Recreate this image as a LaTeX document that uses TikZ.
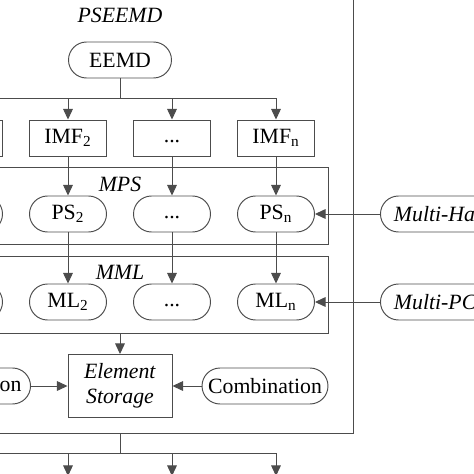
\documentclass[tikz,border=0pt]{standalone}
\usepackage{fontspec}
\setmainfont{Liberation Serif}
\usetikzlibrary{arrows.meta}
\begin{document}
\begin{tikzpicture}[x=0.02cm, y=-0.02cm, >={Triangle[length=6pt,width=5.5pt]},
    every node/.style={font=\fontsize{12.4}{14}\selectfont},
    line/.style={draw=black!70, line width=0.55pt},
    stepbox/.style={line, rectangle, minimum width=1.54cm, minimum height=0.72cm, inner sep=0pt},
    roundbox/.style={line, rectangle, rounded corners=0.36cm, minimum width=1.54cm, minimum height=0.72cm, inner sep=0pt}]

    \useasboundingbox (0,0) rectangle (474,474);
    \clip (0,0) rectangle (474,474);

    % Frames of the blocks
    \draw[line] (-200,-50) rectangle (353,433);
    \draw[line] (-150,167) rectangle (328,244);
    \draw[line] (-150,256) rectangle (328,333);

    % Labels of the blocks
    \node (lpseemd) at (120,15) {\textit{PSEEMD}};
    \node (lmps) at (120,184) {\textit{MPS}};
    \node (lmml) at (120,272) {\textit{MML}};

    % Define decomposition node
    \node[roundbox, minimum width=2.06cm] (eemd) at (120,60) {EEMD};

    % Define nodes in the IMF row
    \node[stepbox] (imf1) at (-36,138) {};
    \node[stepbox] (imf2) at (68,138) {IMF\textsubscript{2}};
    \node[stepbox] (imfd) at (172,138) {\strut...};
    \node[stepbox] (imfn) at (276,138) {IMF\textsubscript{n}};

    % Define nodes in the PS row
    \node[roundbox] (ps1) at (-36,214) {};
    \node[roundbox] (ps2) at (68,214) {PS\textsubscript{2}};
    \node[roundbox] (psd) at (172,214) {\strut...};
    \node[roundbox] (psn) at (276,214) {PS\textsubscript{n}};

    % Define nodes in the ML row
    \node[roundbox] (ml1) at (-36,302) {};
    \node[roundbox] (ml2) at (68,302) {ML\textsubscript{2}};
    \node[roundbox] (mld) at (172,302) {\strut...};
    \node[roundbox] (mln) at (276,302) {ML\textsubscript{n}};

    % Define side inputs
    \node[roundbox, anchor=west, text width=2.6cm, align=left, inner xsep=0.27cm] (mharm) at (380,214) {\textit{Multi-Ha}};
    \node[roundbox, anchor=west, text width=2.6cm, align=left, inner xsep=0.27cm] (mpc) at (380,302) {\textit{Multi-PC}};

    % Define storage and its inputs
    \node[stepbox, minimum width=2.08cm, minimum height=1.26cm, align=center] (store) at (120,386) {\textit{Element}\\\textit{Storage}};
    \node[roundbox, minimum width=2.52cm] (comb) at (265,386) {Combination};
    \node[roundbox, anchor=east, text width=2cm, align=right, inner xsep=0.18cm] (left) at (31,386) {on};

    % Split points
    \coordinate (split1) at (120,98);
    \coordinate (mmlout) at (120,333);
    \coordinate (split2) at (120,453);
    \coordinate (out1) at (-36,476);
    \coordinate (out2) at (68,476);
    \coordinate (out3) at (172,476);
    \coordinate (out4) at (276,476);

    % Draw arrows from EEMD to the IMF row
    \draw[line] (eemd) -- (split1);
    \draw[line, ->] (split1) -| (imf1);
    \draw[line, ->] (split1) -| (imf2);
    \draw[line, ->] (split1) -| (imfd);
    \draw[line, ->] (split1) -| (imfn);

    % Draw arrows from the IMF row to the PS row
    \draw[line, ->] (imf1) -- (ps1);
    \draw[line, ->] (imf2) -- (ps2);
    \draw[line, ->] (imfd) -- (psd);
    \draw[line, ->] (imfn) -- (psn);

    % Draw arrows from the PS row to the ML row
    \draw[line, ->] (ps1) -- (ml1);
    \draw[line, ->] (ps2) -- (ml2);
    \draw[line, ->] (psd) -- (mld);
    \draw[line, ->] (psn) -- (mln);

    % Draw side arrows
    \draw[line, ->] (mharm) -- (psn);
    \draw[line, ->] (mpc) -- (mln);

    % Draw arrows into the storage
    \draw[line, ->] (mmlout) -- (store);
    \draw[line, ->] (comb) -- (store);
    \draw[line, ->] (left) -- (store);

    % Draw output arrows
    \draw[line] (120,433) -- (split2);
    \draw[line, ->] (split2) -| (out1);
    \draw[line, ->] (split2) -| (out2);
    \draw[line, ->] (split2) -| (out3);
    \draw[line, ->] (split2) -| (out4);

\end{tikzpicture}
\end{document}
